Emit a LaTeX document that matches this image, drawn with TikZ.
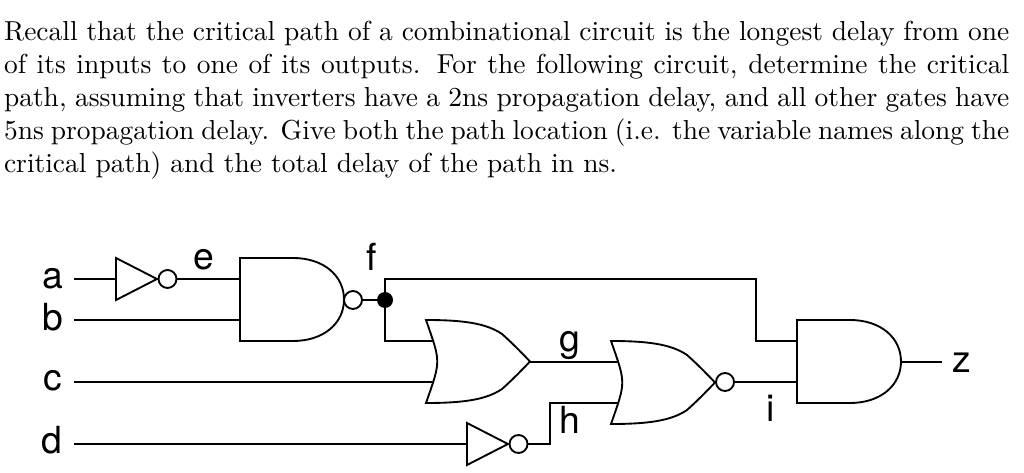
\documentclass[tikz,border=0pt]{standalone}
\usepackage{fontspec}
\usepackage{tikz}
\newfontfamily\labelfont{TeX Gyre Heros}
\tikzset{
  wire/.style={line width=1.4pt},
  sig/.style={anchor=base,inner sep=0pt,font=\labelfont\fontsize{28}{28}\selectfont},
  dotnode/.style={circle,fill=black,inner sep=0pt,minimum size=12pt},
  bubble/.style={circle,draw,line width=1.4pt,inner sep=0pt,outer sep=0pt,minimum size=13.5pt},
  andpic/.pic={
    \draw [wire] (0,0) -- (53,0) .. controls (84,0) and (104,18) .. (104,41.5)
      .. controls (104,65) and (84,83) .. (53,83) -- (0,83) -- cycle;
    \coordinate (-in1) at (0,21);
    \coordinate (-in2) at (0,62);
    \coordinate (-out) at (104,42);
  },
  orpic/.pic={
    \draw [wire] (0,0) .. controls (36,0) and (60,3) .. (76,14)
      .. controls (84,21) and (94,31) .. (104,41.5)
      .. controls (94,52) and (84,62) .. (76,69)
      .. controls (60,80) and (36,83) .. (0,83)
      .. controls (15,40) and (15,43) .. (0,0) -- cycle;
    \coordinate (-in1) at (7,21);
    \coordinate (-in2) at (7,62);
    \coordinate (-out) at (104,42);
  },
  notpic/.pic={
    \draw [wire] (0,0) -- (41,21) -- (0,42) -- cycle;
    \coordinate (-in) at (0,21);
    \coordinate (-out) at (41,21);
  },
}
\begin{document}
\begin{tikzpicture}[x=0.75pt,y=-0.75pt]
    \path [use as bounding box] (0,0) rectangle (1024,473);
    \node (text) [anchor=north west,inner sep=0pt,scale=2.06,transform shape,text width=366pt,align=justify]
      at (3.5,21) {Recall that the critical path of a combinational circuit is the longest delay from one\linebreak
      of its inputs to one of its outputs.  For the following circuit, determine the critical\linebreak
      path, assuming that inverters have a 2ns propagation delay, and all other gates have\linebreak
      5ns propagation delay.  Give both the path location (i.e. the variable names along the\linebreak
      critical path) and the total delay of the path in ns.};
    % signal names
    \node (La) [sig] at (53,289) {a};
    \node (Lb) [sig] at (53,331) {b};
    \node (Lc) [sig] at (53,391) {c};
    \node (Ld) [sig] at (52,454) {d};
    \node (Le) [sig] at (204,270) {e};
    \node (Lf) [sig] at (372,271) {f};
    \node (Lg) [sig] at (570,352) {g};
    \node (Lh) [sig] at (570,434) {h};
    \node (Li) [sig] at (771,422) {i};
    \node (Lz) [sig] at (962,373) {z};
    % gates
    \pic (N1) at (116,258) {notpic};
    \pic (N2) at (467,423) {notpic};
    \pic (G1) at (240,258) {andpic};
    \pic (G2) at (426,320) {orpic};
    \pic (G3) at (611,341) {orpic};
    \pic (G4) at (797,320) {andpic};
    \node (B1) [bubble] at (167.5,279) {};
    \node (B2) [bubble] at (353,300) {};
    \node (B3) [bubble] at (518.5,444) {};
    \node (B4) [bubble] at (725,382) {};
    \node (J1) [dotnode] at (385,300) {};
    % free ends
    \coordinate (Ca) at (74,279);
    \coordinate (Cb) at (74,320);
    \coordinate (Cc) at (74,382);
    \coordinate (Cd) at (74,444);
    \coordinate (Cz) at (942,362);
    \coordinate (Ct) at (756,279);
    \coordinate (Ch) at (550,444);
    % wires
    \draw [wire] (Ca) -- (N1-in);
    \draw [wire] (B1) -- (G1-in1);
    \draw [wire] (Cb) -- (G1-in2);
    \draw [wire] (B2) -- (J1);
    \draw [wire] (J1.center) |- (G2-in1);
    \draw [wire] (J1.center) |- (Ct) |- (G4-in1);
    \draw [wire] (Cc) -- (G2-in2);
    \draw [wire] (Cd) -- (N2-in);
    \draw [wire] (G2-out) -- (G3-in1);
    \draw [wire] (B3) -- (Ch) |- (G3-in2);
    \draw [wire] (B4) -- (G4-in2);
    \draw [wire] (G4-out) -- (Cz);
  \end{tikzpicture}
\end{document}
